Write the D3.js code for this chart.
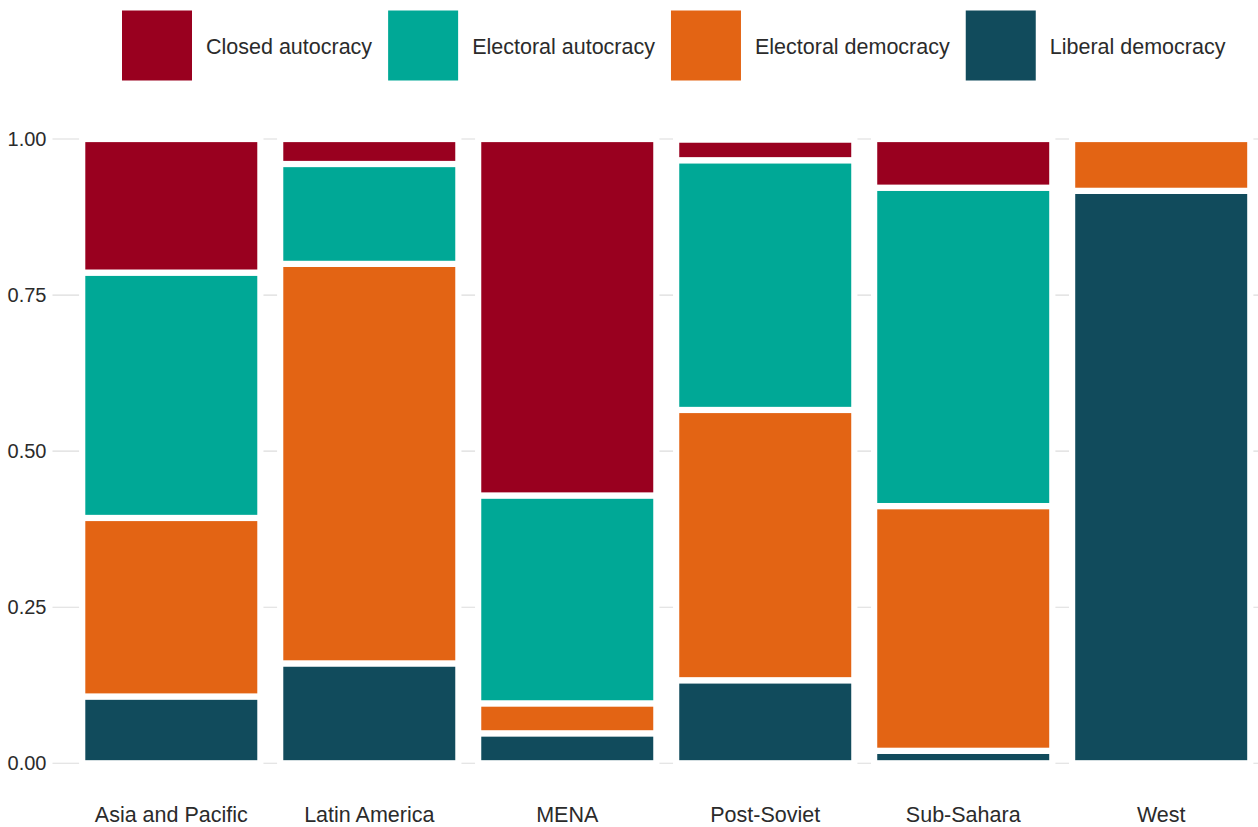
<!DOCTYPE html>
<html>
<head>
<meta charset="utf-8">
<script src="https://cdn.jsdelivr.net/npm/d3@7"></script>
<style>
  body { margin: 0; background: #fff; }
  svg { display: block; font-family: "Liberation Sans", Arial, sans-serif; }
</style>
</head>
<body>
<div id="chart"></div>
<script>
const regions = ["Asia and Pacific", "Latin America", "MENA", "Post-Soviet", "Sub-Sahara", "West"]
const regimes = ["Closed autocracy", "Electoral autocracy", "Electoral democracy", "Liberal democracy"]
const colors = ["#99001f", "#00a896", "#e36414", "#114b5c"]

// share of countries per regime type
const closedAutocracy    = [0.214, 0.040, 0.571, 0.033, 0.078, 0.000]
const electoralAutocracy = [0.393, 0.160, 0.333, 0.400, 0.510, 0.000]
const electoralDemocracy = [0.286, 0.640, 0.048, 0.433, 0.392, 0.083]
const liberalDemocracy   = [0.107, 0.160, 0.048, 0.133, 0.020, 0.917]

const yTicks = [0, 0.25, 0.5, 0.75, 1]

const width = 1258, height = 827
const panel = {left: 52.5, right: 1280, top: 107.8, bottom: 794.5}

const svg = d3.select("#chart").append("svg")
    .attr("width", width)
    .attr("height", height)

// rows for the stack: liberal democracy sits at the bottom
const rows = regions.map(function(r, i) {
    return {
        region: r,
        "Closed autocracy": closedAutocracy[i],
        "Electoral autocracy": electoralAutocracy[i],
        "Electoral democracy": electoralDemocracy[i],
        "Liberal democracy": liberalDemocracy[i]
    }
})
const stackOrder = regimes.slice().reverse()
const series = d3.stack().keys(stackOrder)(rows)

const x = d3.scaleBand()
    .domain(regions)
    .range([panel.left, panel.right])
    .paddingInner(0.1)
    .paddingOuter(0.15)

const y = d3.scaleLinear()
    .domain([-0.05, 1.05])
    .range([panel.bottom, panel.top])

const color = d3.scaleOrdinal().domain(regimes).range(colors)

/** Grid */
svg.append("g")
    .selectAll("line")
    .data(yTicks)
    .join("line")
    .attr("x1", panel.left)
    .attr("x2", panel.right)
    .attr("y1", d => y(d))
    .attr("y2", d => y(d))
    .attr("stroke", "#dcdcdc")
    .attr("stroke-width", 1.1)

/** Bars */
svg.append("g")
    .selectAll("g")
    .data(series)
    .join("g")
    .attr("fill", d => color(d.key))
    .selectAll("rect")
    .data(d => d.filter(s => s[1] - s[0] > 0))
    .join("rect")
    .attr("x", d => x(d.data.region))
    .attr("width", x.bandwidth())
    .attr("y", d => y(d[1]))
    .attr("height", d => y(d[0]) - y(d[1]))
    .attr("stroke", "white")
    .attr("stroke-width", 6.2)

/** Axes */
const yAxis = svg.append("g")
    .attr("transform", "translate(" + panel.left + ",0)")
    .call(d3.axisLeft(y).tickValues(yTicks).tickFormat(d3.format(".2f")).tickSize(0).tickPadding(6))
yAxis.select(".domain").remove()
yAxis.selectAll("text")
    .attr("font-size", 20)
    .attr("fill", "#2b2b2b")
    .attr("font-family", "Liberation Sans, Arial, sans-serif")

const xAxis = svg.append("g")
    .attr("transform", "translate(0," + y(0) + ")")
    .call(d3.axisBottom(x).tickSize(0).tickPadding(43))
xAxis.select(".domain").remove()
xAxis.selectAll("text")
    .attr("font-size", 21.5)
    .attr("fill", "#2b2b2b")
    .attr("font-family", "Liberation Sans, Arial, sans-serif")

/** Legend */
const legend = svg.append("g")
let lx = 122
regimes.forEach(function(name) {
    const item = legend.append("g").attr("transform", "translate(" + lx + ",10.5)")
    item.append("rect")
        .attr("width", 70)
        .attr("height", 70)
        .attr("fill", color(name))
    const label = item.append("text")
        .attr("x", 84)
        .attr("y", 35.5)
        .attr("dy", "0.35em")
        .attr("font-size", 21.5)
        .attr("fill", "#2b2b2b")
        .text(name)
    lx += 84 + label.node().getComputedTextLength() + 16
})
</script>
</body>
</html>
